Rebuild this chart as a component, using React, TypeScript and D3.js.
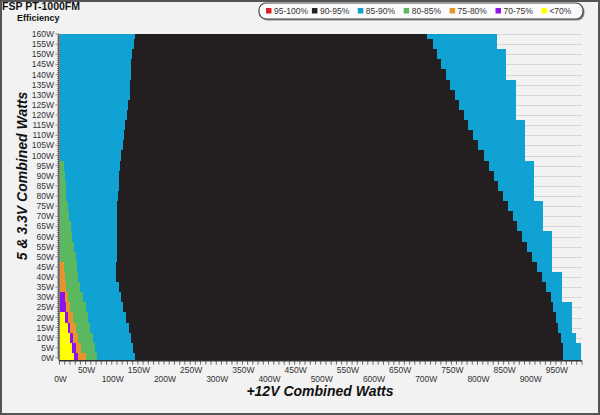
import { useEffect, useRef } from "react";
import * as d3 from "d3";

// 5 & 3.3V combined load (rows)
const LOADS_5V = [0, 5, 10, 15, 20, 25, 30, 35, 40, 45, 50, 55, 60, 65, 70, 75, 80, 85, 90, 95, 100, 105, 110, 115, 120, 125, 130, 135, 140, 145, 150, 155, 160];

// +12V watts where each efficiency band ends, per row (missing = band absent)
const YELLOW_END = [27, 24, 20, 16, 10];
const PURPLE_END = [36, 31, 26, 20, 16, 13, 10];
const ORANGE_END = [50, 42, 36, 31, 26, 20, 17, 13, 10, 8];
const GREEN_END = [72, 68, 64, 59, 54, 50, 45, 40, 36, 33, 31, 27, 24, 22, 19, 16, 13, 12, 10, 8];
const BLUE_LOW_END = [144, 140, 137, 133, 128, 121, 118, 114, 109, 109, 110, 110, 110, 110, 111, 111, 112, 113, 114, 115, 118, 121, 123, 126, 130, 132, 134, 134, 136, 137, 139, 142, 144];
const BLACK_END = [964, 963, 960, 955, 950, 945, 940, 932, 923, 914, 904, 895, 886, 876, 867, 858, 849, 840, 831, 822, 812, 801, 791, 782, 774, 765, 757, 747, 739, 731, 723, 714, 704];
const MAX_LOAD = [998, 998, 988, 980, 980, 980, 962, 962, 962, 943, 943, 943, 943, 926, 926, 926, 908, 908, 908, 908, 891, 891, 891, 891, 873, 873, 873, 873, 854, 854, 854, 837, 837];

const LEGEND_LABELS = ["95-100%", "90-95%", "85-90%", "80-85%", "75-80%", "70-75%", "<70%"];

const COLORS = {
  red: "#dc2027",
  black: "#231f20",
  blue: "#10a2d2",
  green: "#5cb85f",
  orange: "#ea922b",
  purple: "#8c12ee",
  yellow: "#ffff00",
  bg: "#f2f2f2",
  grid: "#d6d6d6",
  axis: "#333",
  text: "#333",
};

const LEGEND_COLORS = [COLORS.red, COLORS.black, COLORS.blue, COLORS.green, COLORS.orange, COLORS.purple, COLORS.yellow];

const FONT = "'Liberation Sans', Arial, sans-serif";
const W = 600;
const H = 415;

export default function App() {
  const svgRef = useRef<SVGSVGElement>(null);

  useEffect(() => {
    if (!svgRef.current) return;
    const svg = d3.select(svgRef.current);
    svg.selectAll("*").remove();

    const x = d3.scaleLinear().domain([0, 1000]).range([59.5, 582]);
    const y = d3.scaleLinear().domain([0, 160]).range([358, 34]);
    const yMin = -1.2;

    // background
    svg.append("rect").attr("width", W).attr("height", H).attr("fill", COLORS.bg);

    // grid lines
    svg.append("g")
      .selectAll("line")
      .data(LOADS_5V)
      .join("line")
      .attr("x1", x(0)).attr("x2", x(1000))
      .attr("y1", (d) => Math.round(y(d)) + 0.5)
      .attr("y2", (d) => Math.round(y(d)) + 0.5)
      .attr("stroke", COLORS.grid)
      .attr("stroke-width", 1);

    // efficiency cells
    const bandEnds = [YELLOW_END, PURPLE_END, ORANGE_END, GREEN_END, BLUE_LOW_END, BLACK_END, MAX_LOAD];
    const bandColors = [COLORS.yellow, COLORS.purple, COLORS.orange, COLORS.green, COLORS.blue, COLORS.black, COLORS.blue];
    const cells: { v: number; start: number; end: number; color: string }[] = [];
    LOADS_5V.forEach((v, i) => {
      let start = 0;
      bandEnds.forEach((arr, b) => {
        const end = arr[i] ?? 0;
        if (end > start) {
          cells.push({ v, start, end, color: bandColors[b] });
          start = end;
        }
      });
    });

    svg.append("g")
      .attr("shape-rendering", "crispEdges")
      .selectAll("rect")
      .data(cells)
      .join("rect")
      .attr("x", (d) => x(d.start))
      .attr("width", (d) => x(d.end) - x(d.start))
      .attr("y", (d) => y(Math.min(d.v + 2.5, 160)))
      .attr("height", (d) => y(Math.max(d.v - 2.5, yMin)) - y(Math.min(d.v + 2.5, 160)))
      .attr("fill", (d) => d.color);

    // y axis
    const yAxis = svg.append("g").attr("stroke", COLORS.axis);
    yAxis.append("line")
      .attr("x1", 59).attr("x2", 59)
      .attr("y1", y(160)).attr("y2", y(yMin))
      .attr("stroke-width", 1.2);
    yAxis.selectAll("line.minor")
      .data(d3.range(0, 161, 1))
      .join("line")
      .attr("class", "minor")
      .attr("x1", (d) => (d % 5 === 0 ? 55.5 : 57))
      .attr("x2", 59)
      .attr("y1", (d) => y(d))
      .attr("y2", (d) => y(d))
      .attr("stroke-width", 0.6);

    svg.append("g")
      .selectAll("text")
      .data(LOADS_5V)
      .join("text")
      .attr("x", 54)
      .attr("y", (d) => y(d) + 3)
      .attr("text-anchor", "end")
      .attr("font-family", FONT)
      .attr("font-size", 8.5)
      .attr("fill", COLORS.text)
      .text((d) => `${d}W`);

    // x axis
    const xAxisY = y(yMin) + 0.3;
    const xAxis = svg.append("g").attr("stroke", COLORS.axis);
    xAxis.append("line")
      .attr("x1", 59).attr("x2", x(1000))
      .attr("y1", xAxisY).attr("y2", xAxisY)
      .attr("stroke-width", 1.4);
    xAxis.selectAll("line.tick")
      .data(d3.range(0, 1001, 10))
      .join("line")
      .attr("class", "tick")
      .attr("x1", (d) => x(d))
      .attr("x2", (d) => x(d))
      .attr("y1", xAxisY)
      .attr("y2", xAxisY + 4)
      .attr("stroke-width", 0.7);

    svg.append("g")
      .selectAll("text")
      .data(d3.range(0, 951, 50))
      .join("text")
      .attr("x", (d) => x(d) + 1)
      .attr("y", (d) => (d % 100 === 0 ? 382 : 373))
      .attr("text-anchor", "middle")
      .attr("font-family", FONT)
      .attr("font-size", 8.5)
      .attr("fill", COLORS.text)
      .text((d) => `${d}W`);

    // axis titles
    svg.append("text")
      .attr("transform", `translate(27, 176) rotate(-90)`)
      .attr("text-anchor", "middle")
      .attr("font-family", FONT)
      .attr("font-size", 14)
      .attr("font-weight", "bold")
      .attr("font-style", "italic")
      .attr("fill", "#111")
      .text("5 & 3.3V Combined Watts");

    svg.append("text")
      .attr("x", 320)
      .attr("y", 396)
      .attr("text-anchor", "middle")
      .attr("font-family", FONT)
      .attr("font-size", 14)
      .attr("font-weight", "bold")
      .attr("font-style", "italic")
      .attr("fill", "#111")
      .text("+12V Combined Watts");

    // title
    svg.append("text")
      .attr("x", 2).attr("y", 10)
      .attr("font-family", FONT)
      .attr("font-size", 10.5)
      .attr("font-weight", "bold")
      .attr("fill", "#111")
      .text("FSP PT-1000FM");
    svg.append("text")
      .attr("x", 17).attr("y", 20.5)
      .attr("font-family", FONT)
      .attr("font-size", 9)
      .attr("font-weight", "bold")
      .attr("fill", "#111")
      .text("Efficiency");

    // legend
    const legend = svg.append("g");
    legend.append("rect")
      .attr("x", 260.5).attr("y", 4.5)
      .attr("width", 324).attr("height", 16)
      .attr("rx", 7)
      .attr("fill", "#888");
    legend.append("rect")
      .attr("x", 259).attr("y", 3)
      .attr("width", 324).attr("height", 16)
      .attr("rx", 7)
      .attr("fill", "#fbfbfb")
      .attr("stroke", "#444")
      .attr("stroke-width", 1.2);
    const items = legend.selectAll("g.item")
      .data(LEGEND_LABELS)
      .join("g")
      .attr("class", "item")
      .attr("transform", (_, i) => `translate(${266 + i * 45.9}, 0)`);
    items.append("rect")
      .attr("x", 0).attr("y", 8)
      .attr("width", 5.5).attr("height", 5.5)
      .attr("fill", (_, i) => LEGEND_COLORS[i]);
    items.append("text")
      .attr("x", 8).attr("y", 14)
      .attr("font-family", FONT)
      .attr("font-size", 8.5)
      .attr("fill", COLORS.text)
      .text((d) => d);

    // outer frame
    svg.append("rect")
      .attr("x", 1).attr("y", 1)
      .attr("width", W - 2).attr("height", H - 2)
      .attr("fill", "none")
      .attr("stroke", "#555")
      .attr("stroke-width", 2);
  }, []);

  return (
    <svg
      ref={svgRef}
      width={W}
      height={H}
      style={{ position: "absolute", left: 0, top: 0, display: "block" }}
    />
  );
}
